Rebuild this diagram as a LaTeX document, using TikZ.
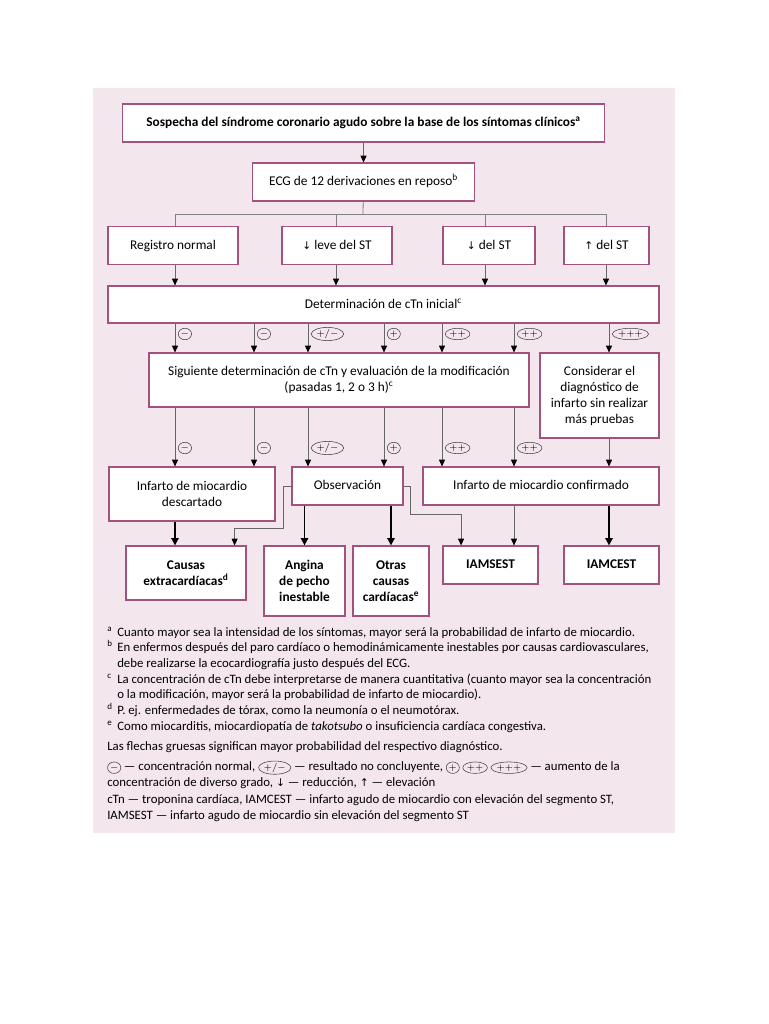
\documentclass[tikz,border=0pt]{standalone}
\usepackage{fontspec}
\setmainfont{Carlito}
\newfontfamily\arwfont{DejaVu Sans}
\usetikzlibrary{arrows.meta,shapes.geometric,positioning}
\definecolor{bgpink}{HTML}{F4E6ED}
\definecolor{frame}{HTML}{A3527F}
\newcommand{\arw}[1]{{\arwfont\footnotesize #1}}
\newcommand{\sg}[1]{\tikz[baseline=(sg.base)]\node[sgn](sg){#1};}
\tikzset{
    box/.style={draw=frame, line width=0.9pt, fill=white, align=center,
        inner sep=1pt, font=\fontsize{10}{12}\selectfont},
    bbox/.style={box, font=\fontsize{10}{12}\selectfont\bfseries},
    oneline/.style={text height=1.55ex, text depth=0.45ex},
    arr/.style={draw=black!60, line width=0.5pt,
        -{Triangle[length=5pt,width=4.5pt,color=black]}},
    thickarr/.style={draw=black, line width=1.3pt,
        -{Triangle[length=5.5pt,width=5.5pt]}},
    fan/.style={draw=black!50, line width=0.6pt},
    sgn/.style={ellipse, draw=black!75, line width=0.4pt, inner xsep=0.4pt,
        inner ysep=0pt, minimum height=8.6pt, minimum width=8.6pt,
        font=\fontsize{7.4}{7.4}\selectfont},
    note/.style={anchor=base west, inner sep=0pt, font=\fontsize{9.6}{11.5}\selectfont},
}
\begin{document}
\begin{tikzpicture}[x=0.75pt, y=-0.75pt]
    \useasboundingbox (0,0) rectangle (768,1024);
    \fill[bgpink] (93,88) rectangle (675,833);

    % boxes
    \node[bbox, oneline, minimum width=362pt, minimum height=28.5pt] (top) at (363.5,123)
        {Sospecha del síndrome coronario agudo sobre la base de los síntomas clínicos\textsuperscript{a}};
    \node[box, oneline, minimum width=167pt, minimum height=28.5pt] (ecg) at (363.5,182)
        {ECG de 12 derivaciones en reposo\textsuperscript{b}};
    \node[box, oneline, minimum width=97.5pt, minimum height=29pt] (reg) at (173,245.5) {Registro normal};
    \node[box, oneline, minimum width=82.5pt, minimum height=29pt] (leve) at (337,245.5) {\arw{↓} leve del ST};
    \node[box, oneline, minimum width=69pt, minimum height=29pt] (del) at (489,245.5) {\arw{↓} del ST};
    \node[box, oneline, minimum width=63.75pt, minimum height=29pt] (up) at (606.5,245.5) {\arw{↑} del ST};
    \node[box, oneline, minimum width=413.25pt, minimum height=27.75pt] (det) at (383.5,304.5)
        {Determinación de cTn inicial\textsuperscript{c}};
    \node[box, minimum width=285pt, minimum height=40.5pt] (sig) at (339,380)
        {Siguiente determinación de cTn y evaluación de la modificación\\(pasadas 1, 2 o 3 h)\textsuperscript{c}};
    \node[box, minimum width=89.25pt, minimum height=63.75pt] (cons) at (599.5,395.5)
        {Considerar el\\diagnóstico de\\infarto sin realizar\\más pruebas};
    \node[box, minimum width=124.5pt, minimum height=40.5pt] (desc) at (192,494)
        {Infarto de miocardio\\descartado};
    \node[box, oneline, minimum width=83.25pt, minimum height=28.5pt] (obs) at (347.5,486) {Observación};
    \node[box, oneline, minimum width=177pt, minimum height=28.5pt] (conf) at (541,486)
        {Infarto de miocardio confirmado};
    \node[bbox, minimum width=90pt, minimum height=40.5pt] (caus) at (186,573)
        {Causas\\extracardíacas\textsuperscript{d}};
    \node[bbox, minimum width=60.75pt, minimum height=52.5pt] (ang) at (304.5,581)
        {Angina\\de pecho\\inestable};
    \node[bbox, minimum width=57pt, minimum height=52.5pt] (otras) at (391,581)
        {Otras\\causas\\cardíacas\textsuperscript{e}};
    \node[bbox, oneline, minimum width=71.25pt, minimum height=28.5pt] (iamsest) at (490.5,565) {IAMSEST};
    \node[bbox, oneline, minimum width=71.25pt, minimum height=28.5pt] (iamcest) at (611.5,565) {IAMCEST};

    % ECG branches
    \draw[arr] (top) -- (ecg);
    \coordinate (br) at (363,214);
    \draw[fan] (ecg) -- (br);
    \foreach \n/\x in {reg/175,leve/336,del/485,up/606} {
        \coordinate (d\n) at (\x,214);
        \draw[fan] (d\n) -- (d\n|-\n.north);
        \draw[arr] (d\n|-\n.south) -- (d\n|-det.north);
    }
    \draw[fan] (dreg) -- (dup);

    % cTn results
    \foreach \x/\s/\t [count=\i] in {175/{$-$}/desc,254/{$-$}/desc,308/{$+/-$}/obs,
            384/{$+$}/obs,442/{$+{+}$}/conf,514/{$+{+}$}/conf} {
        \coordinate (k\i) at (\x,0);
        \draw[arr] (k\i|-det.south) -- (k\i|-sig.north);
        \node[sgn, anchor=west] (su\i) at (\x+3,334) {\s};
        \draw[arr] (k\i|-sig.south) -- (k\i|-\t.north);
        \node[sgn, anchor=west] (sl\i) at (\x+3,448) {\s};
    }
    \coordinate (k7) at (609,0);
    \draw[arr] (k7|-det.south) -- (k7|-cons.north);
    \node[sgn, anchor=west] (su7) at (612,334) {$+{+}{+}$};
    \draw[arr] (k7|-cons.south) -- (k7|-conf.north);

    % diagnoses
    \draw[thickarr] (k1|-desc.south) -- (k1|-caus.north);
    \draw[arr] (obs.west) -- ++(-8,0) -- ++(0,42) -| ([xshift=-9pt]caus.north east);
    \draw[thickarr] (obs.south-|ang) -- (ang.north);
    \draw[thickarr] (obs.south-|otras) -- (otras.north);
    \draw[arr] (obs.east) -- ++(7,0) -- ++(0,28) -| ([xshift=14pt]iamsest.north west);
    \draw[arr] (k6|-conf.south) -- (k6|-iamsest.north);
    \draw[thickarr] (k7|-conf.south) -- (k7|-iamcest.north);

    % notes
    \node[note] (na) at (107,636) {\makebox[7.5pt][l]{\textsuperscript{a}}Cuanto mayor sea la intensidad de los síntomas, mayor será la probabilidad de infarto de miocardio.};
    \node[note] (nb) at (107,651) {\makebox[7.5pt][l]{\textsuperscript{b}}En enfermos después del paro cardíaco o hemodinámicamente inestables por causas cardiovasculares,};
    \node[note] (nb2) at (117,667) {debe realizarse la ecocardiografía justo después del ECG.};
    \node[note] (nc) at (107,683) {\makebox[7.5pt][l]{\textsuperscript{c}}La concentración de cTn debe interpretarse de manera cuantitativa (cuanto mayor sea la concentración};
    \node[note] (nc2) at (117,698) {o la modificación, mayor será la probabilidad de infarto de miocardio).};
    \node[note] (nd) at (107,714) {\makebox[7.5pt][l]{\textsuperscript{d}}P. ej. enfermedades de tórax, como la neumonía o el neumotórax.};
    \node[note] (ne) at (107,730) {\makebox[7.5pt][l]{\textsuperscript{e}}Como miocarditis, miocardiopatía de \textit{takotsubo} o insuficiencia cardíaca congestiva.};
    \node[note] (nf) at (107,750) {Las flechas gruesas significan mayor probabilidad del respectivo diagnóstico.};
    \node[note] (ng) at (107,770) {\sg{$-$} — concentración normal, \sg{$+/-$} — resultado no concluyente, \sg{$+$} \sg{$+{+}$} \sg{$+{+}{+}$} — aumento de la};
    \node[note] (ng2) at (107,786) {concentración de diverso grado, \arw{↓} — reducción, \arw{↑} — elevación};
    \node[note] (nh) at (107,803) {cTn — troponina cardíaca, IAMCEST — infarto agudo de miocardio con elevación del segmento ST,};
    \node[note] (nh2) at (107,819) {IAMSEST — infarto agudo de miocardio sin elevación del segmento ST};
\end{tikzpicture}
\end{document}
